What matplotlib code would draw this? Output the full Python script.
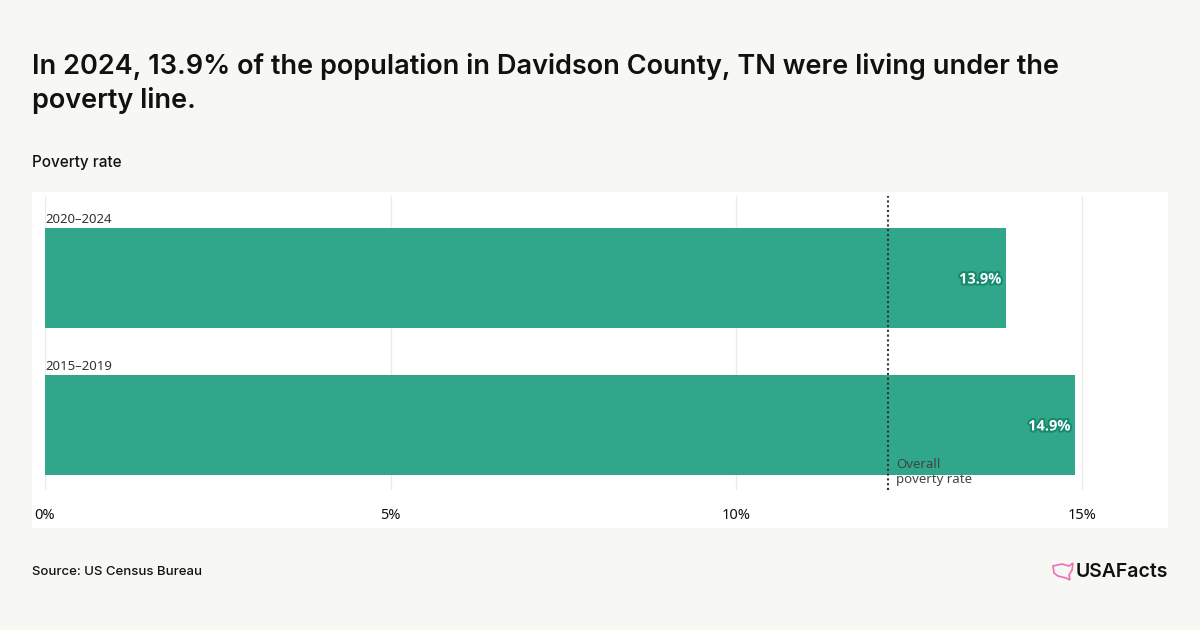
import matplotlib.pyplot as plt
import matplotlib.patheffects as pe
from matplotlib.patches import Rectangle, Polygon

# data
periods = ['2020–2024', '2015–2019']
rates = [13.9, 14.9]
overall_rate = 12.2
xticks = [0, 5, 10, 15]
xticklabels = ['0%', '5%', '10%', '15%']

bg = '#f7f7f3'
bar_color = '#30a68a'

fig = plt.figure(figsize=(12, 6.3), dpi=100, facecolor=bg)

# white panel behind the chart
fig.patches.append(Rectangle((32 / 1200, 1 - 528 / 630), 1136 / 1200, 336 / 630,
                             transform=fig.transFigure, facecolor='white',
                             edgecolor='none', zorder=-5))

ax = fig.add_axes([45 / 1200, 1 - 490 / 630, 1106 / 1200, 294 / 630])
ax.set_facecolor('none')
ax.set_zorder(2)

ypos = list(range(len(periods)))
ax.barh(ypos, rates, height=0.68, color=bar_color, zorder=2)
ax.set_xlim(0, 16.0)
ax.set_ylim(1.442, -0.558)

for y, lab, v in zip(ypos, periods, rates):
    ax.text(0, y - 0.355, lab, ha='left', va='bottom', fontsize=9.5,
            color='#333333', family='Noto Sans')
    ax.text(v - 0.06, y + 0.01, f'{v}%', ha='right', va='center', fontsize=10.5,
            color='white', fontweight='bold', family='Open Sans', zorder=4,
            path_effects=[pe.withStroke(linewidth=3, foreground='#158a6c')])

ax.axvline(overall_rate, color='#333333', linestyle=(0, (1, 1.3)), lw=1.5, zorder=3)
ax.text(overall_rate + 0.11, 1.32, 'Overall\npoverty rate', ha='left', va='center',
        fontsize=9.5, color='#444444', family='Noto Sans', linespacing=1.25, zorder=4)

ax.set_xticks(xticks)
ax.set_xticklabels(xticklabels, fontsize=10.5, color='#111111', family='Noto Sans')
ax.set_yticks([])
ax.tick_params(axis='x', length=0, pad=13)
ax.grid(axis='x', color='#ebebeb', lw=1, zorder=1)
for s in ax.spines.values():
    s.set_visible(False)

fig.text(32 / 1200, 1 - 67 / 630, 'In 2024, 13.9% of the population in Davidson County, TN were living under the',
         fontsize=19.5, family='Inter', fontweight='semibold', color='#111111', va='center')
fig.text(32 / 1200, 1 - 101 / 630, 'poverty line.',
         fontsize=19.5, family='Inter', fontweight='semibold', color='#111111', va='center')
fig.text(32 / 1200, 1 - 163 / 630, 'Poverty rate', fontsize=11, family='Inter',
         fontweight='medium', color='#111111', va='center')
fig.text(32 / 1200, 1 - 572 / 630, 'Source: US Census Bureau', fontsize=9.5, family='Inter',
         fontweight='medium', color='#111111', va='center')
fig.text(1168 / 1200, 1 - 572 / 630, 'USAFacts', fontsize=14, family='Inter',
         fontweight='semibold', color='#111111', va='center', ha='right')

# small pink map outline for the logo
logo_pts = [(1053, 566), (1062, 564), (1069, 566), (1073, 563), (1072, 570),
            (1069, 575), (1070, 580), (1066, 578), (1058, 576), (1054, 573)]
fig.patches.append(Polygon([(x / 1200, 1 - y / 630) for x, y in logo_pts], closed=True,
                           transform=fig.transFigure, facecolor='none',
                           edgecolor='#f06eb4', lw=1.2))

fig.savefig('out.png', dpi=100, facecolor=bg)
